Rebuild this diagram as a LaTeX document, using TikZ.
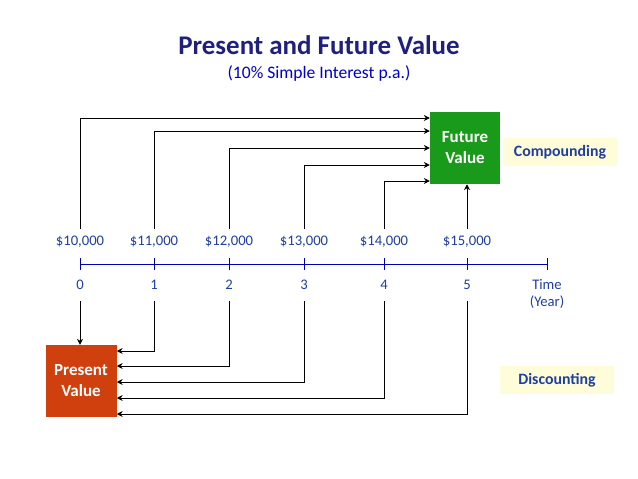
\documentclass[tikz,border=0pt]{standalone}
\usepackage{fontspec}
\usetikzlibrary{arrows.meta}
\setmainfont{Carlito}
\definecolor{pvred}{HTML}{D0400F}
\definecolor{fvgreen}{HTML}{1A9A1A}
\definecolor{navy}{HTML}{1F1F80}
\definecolor{lblue}{HTML}{1F3FA0}
\begin{document}
\begin{tikzpicture}[x=0.3mm,y=-0.3mm,
  arr/.style={draw=black,thick,-{Stealth[length=5pt,width=5pt]}},
  lab/.style={font=\fontsize{12.5}{15}\selectfont,text=lblue},
  hl/.style={fill=yellow!15,text=lblue,font=\bfseries\fontsize{13.5}{16}\selectfont,minimum width=114*0.3mm,minimum height=28*0.3mm,inner sep=0pt}]
\useasboundingbox (0,0) rectangle (638,478);
\fill[white] (0,0) rectangle (638,478);
\node[font=\bfseries\fontsize{23}{26}\selectfont,text=navy] (title) at (319,45) {Present and Future Value};
\node[font=\fontsize{15}{18}\selectfont,text=blue!80!black] (sub) at (319,73) {(10\% Simple Interest p.a.)};
\draw[blue!70!black,thick] (80,264) -- (547,264);
\foreach \x/\v/\t [count=\i] in {80/{\$10,000}/0,154/{\$11,000}/1,229/{\$12,000}/2,304/{\$13,000}/3,384/{\$14,000}/4,467/{\$15,000}/5}{
  \draw[blue!70!black,thick] (\x,258) -- (\x,270);
  \node[lab] (v\i) at (\x,242) {\v};
  \node[lab] (t\i) at (\x,285) {\t};
  \coordinate (a\i) at (\x,229);
  \coordinate (b\i) at (\x,301);
}
\draw[blue!70!black,thick] (547,258) -- (547,270);
\node[lab,align=center] (time) at (547,294) {Time\\(Year)};
\node[fill=fvgreen,text=white,font=\bfseries\fontsize{14.5}{18}\selectfont,align=center,minimum width=70*0.3mm,minimum height=72*0.3mm,inner sep=0pt] (fv) at (465,148) {Future\\Value};
\node[hl] (comp) at (560,152) {Compounding};
\node[fill=pvred,text=white,font=\bfseries\fontsize{14.5}{18}\selectfont,align=center,minimum width=71*0.3mm,minimum height=72*0.3mm,inner sep=0pt] (pv) at (81,381) {Present\\Value};
\node[hl] (disc) at (557,380) {Discounting};
\foreach \i/\y in {1/118,2/131,3/148,4/165,5/181}{
  \draw[arr] (a\i) |- (fv.west |- 0,\y);
}
\draw[arr] (a6) -- (fv.south -| a6);
\draw[arr] (b1) -- (pv.north -| b1);
\foreach \i/\y in {2/351,3/366,4/382,5/398,6/414}{
  \draw[arr] (b\i) |- (pv.east |- 0,\y);
}
\end{tikzpicture}
\end{document}
